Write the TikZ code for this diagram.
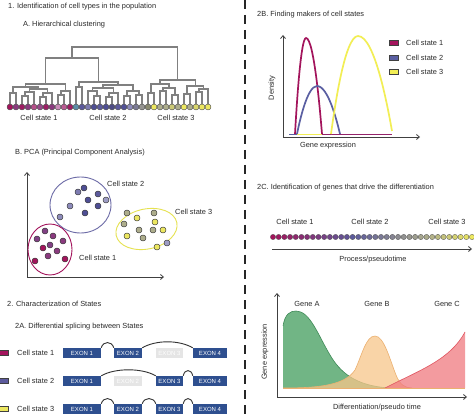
\documentclass[tikz,border=0pt]{standalone}
\usepackage{fontspec}
\setmainfont{Liberation Sans}
\usetikzlibrary{arrows.meta}
\definecolor{cmag}{HTML}{A3145C}
\definecolor{cplum}{HTML}{8A3A7E}
\definecolor{cpink}{HTML}{C98BB8}
\definecolor{cpur}{HTML}{5C5A9C}
\definecolor{cblue}{HTML}{4E4E94}
\definecolor{cteal}{HTML}{5B8DA8}
\definecolor{colive}{HTML}{ADAD8C}
\definecolor{cyel}{HTML}{ECE760}
\definecolor{exonblue}{HTML}{2E4F8F}
\definecolor{dmag}{HTML}{A3145C}
\definecolor{dblue}{HTML}{5A5FA2}
\definecolor{dyel}{HTML}{F2EE55}
\definecolor{ggreen}{HTML}{62AE78}
\definecolor{ggreenl}{HTML}{3F8A57}
\definecolor{gorange}{HTML}{F8C68A}
\definecolor{gorangel}{HTML}{EBB070}
\definecolor{gred}{HTML}{F07A80}
\definecolor{gredl}{HTML}{E05560}
\definecolor{txtc}{HTML}{2A2A2A}
\newcommand{\dendU}[5]{\draw[dendro] (#1,#2) -- (#1,#5) -- (#3,#5) -- (#3,#4);}
\begin{document}
\begin{tikzpicture}[x=1pt,y=-1pt,
  txt/.style={font=\fontsize{7.4}{8.5}\selectfont, text=txtc, inner sep=0pt},
  dendro/.style={draw=black!50, line width=1.1pt},
  ldot/.style={circle, draw=black!75, line width=0.4pt, minimum size=5.9pt, inner sep=0pt},
  pdot/.style={circle, draw=black!80, line width=0.45pt, minimum size=6pt, inner sep=0pt},
  sdot/.style={circle, draw=black!70, line width=0.3pt, minimum size=5.3pt, inner sep=0pt},
  axis/.style={draw=black!75, line width=0.8pt, {Straight Barb[length=3pt,width=5pt]}-{Straight Barb[length=3pt,width=5pt]}},
  exon/.style={fill=exonblue, text=white, minimum width=#1, minimum height=10pt, inner sep=0pt, font=\fontsize{6}{7}\selectfont},
  ghost/.style={fill=black!10, text=white, minimum width=#1, minimum height=10pt, inner sep=0pt, font=\fontsize{6}{7}\selectfont},
  splice/.style={draw=black!80, line width=0.9pt},
  swatch/.style={draw=black!75, line width=0.5pt},
  dens/.style={line width=1.7pt},
]
\useasboundingbox (0,0) rectangle (474,414);
\fill[white] (0,0) rectangle (474,414);

% divider
\coordinate (dtop) at (245,0);
\coordinate (dbot) at (245,414);
\draw[black!85, line width=1.2pt, dash pattern=on 9pt off 6pt] (dtop) -- (dbot);

% ---------- Section 1 ----------
\node[txt, anchor=west] (t1) at (8,7) {1. Identification of cell types in the population};
\node[txt, anchor=west] (t1a) at (23,25) {A. Hierarchical clustering};

% dendrogram
\dendU{10}{104}{16}{104}{93}
\dendU{22}{104}{28}{104}{96}
\dendU{25}{96}{34}{104}{92}
\dendU{40}{104}{46}{104}{97}
\dendU{43}{97}{52}{104}{93}
\dendU{29.5}{92}{47.5}{93}{89}
\dendU{13}{93}{38.5}{89}{87}
\dendU{58}{104}{64}{104}{95}
\dendU{61}{95}{70}{104}{91}
\dendU{25.75}{87}{65.5}{91}{84}
\dendU{76}{104}{82}{104}{87}
\dendU{94}{104}{100}{104}{96}
\dendU{88}{104}{97}{96}{91}
\dendU{106}{104}{112}{104}{97}
\dendU{109}{97}{118}{104}{93}
\dendU{92.5}{91}{113.5}{93}{88}
\dendU{124}{104}{130}{104}{96}
\dendU{136}{104}{142}{104}{95}
\dendU{127}{96}{139}{95}{91}
\dendU{103}{88}{133}{91}{85}
\dendU{79}{87}{118}{85}{82}
\dendU{148}{104}{154}{104}{93}
\dendU{160}{104}{166}{104}{91}
\dendU{172}{104}{178}{104}{95}
\dendU{163}{91}{175}{95}{88}
\dendU{151}{93}{169}{88}{84}
\dendU{184}{104}{190}{104}{94}
\dendU{196}{104}{202}{104}{92}
\dendU{199}{92}{208}{104}{89}
\dendU{187}{94}{203.5}{89}{86}
\dendU{160}{84}{195.25}{86}{80}
\dendU{45.6}{84}{98.5}{82}{58}
\dendU{72}{58}{177.6}{80}{47}

\foreach \c [count=\i from 0] in {cmag, cplum, cmag!80!cplum, cplum, cmag!50!cpink, cplum!80!cpink, cmag!70!cplum, cplum, cpink, cpink!60!cmag, cmag!80!cplum, cteal, cpur, cpur!80!white, cblue, cpur, cblue, cpur!85!black, cpur, cblue!80!cpur, cpur!70!white, cpur!60!colive, colive!70!cpur, colive!80!black, cyel, colive, colive, cyel!50!colive, colive, cyel, colive, cyel!70!colive, cyel, cyel}
  {\node[ldot, fill=\c] (l\i) at ({10+6*\i},107) {};}

\node[txt] (cs1) at (39,118) {Cell state 1};
\node[txt] (cs2) at (108,118) {Cell state 2};
\node[txt] (cs3) at (176,118) {Cell state 3};

% PCA
\node[txt, anchor=west] (t1b) at (15,153) {B. PCA (Principal Component Analysis)};
\coordinate (pO) at (27,277);
\coordinate (pY) at (27,172);
\coordinate (pX) at (164,277);
\draw[axis] (pY) -- (pO) -- (pX);

\draw[cpur!90, line width=0.9pt] (80.5,205) ellipse [x radius=30.5pt, y radius=28pt];
\draw[cmag, line width=0.9pt] (50,249.5) ellipse [x radius=22pt, y radius=25.5pt];
\draw[dyel!95!black, line width=0.9pt, rotate around={12:(146.5,229)}] (146.5,229) ellipse [x radius=31pt, y radius=20pt];

\foreach \x/\y/\c [count=\i] in {78/192/cpur!80!white, 84/188/cblue, 98/194/cpur, 88/200/cblue, 106/200/cpur!60!white, 70/206/cpur!70!white, 98/206/cblue, 85/213/cblue, 60/217/cpur!70!white}
  {\node[pdot, fill=\c] (pb\i) at (\x,\y) {};}
\foreach \x/\y/\c [count=\i] in {45/231/cplum!80!cpur, 53/236/cplum, 37/239/cplum!80!cpur, 63/241/cplum, 50/245/cplum!80!cpur, 43/248/cmag, 57/251/cplum, 48/256/cplum, 65/259/cmag, 35/261/cmag}
  {\node[pdot, fill=\c] (pm\i) at (\x,\y) {};}
\foreach \x/\y/\c [count=\i] in {127/213/colive, 154/213/colive, 137/218/cyel, 155/222/cyel, 124/224/colive, 139/230/colive, 153/230/colive, 163/230/cyel, 127/236/cyel, 143/238/colive, 167/243/cpur!60!white, 157/247/cyel}
  {\node[pdot, fill=\c] (py\i) at (\x,\y) {};}

\node[txt, anchor=west] (e2l) at (107,184) {Cell state 2};
\node[txt, anchor=west] (e3l) at (175,212) {Cell state 3};
\node[txt, anchor=west] (e1l) at (79,258) {Cell state 1};

% ---------- Section 2 ----------
\node[txt, anchor=west] (t2) at (7,304) {2. Characterization of States};
\node[txt, anchor=west] (t2a) at (15,327) {2A. Differential splicing between States};

\foreach \y/\c/\n in {352.5/cmag/1, 380.5/cpur/2, 408.5/cyel/3}{
  \draw[swatch, fill=\c] (-1,\y-2.5) rectangle (8,\y+2.5);
  \node[txt, anchor=west] (row\n) at (17,\y) {Cell state \n};
}

% row 1
\node[exon=38pt] (a1) at (82,353) {EXON 1};
\node[exon=28pt] (a2) at (128,353) {EXON 2};
\node[ghost=27pt] (a3) at (169.5,353) {EXON 3};
\node[exon=34pt] (a4) at (210,353) {EXON 4};
\draw[splice] (a1.north east) .. controls +(2,-7) and +(-2,-7) .. (a2.north west);
\draw[splice] (a2.north east) .. controls +(14,-8) and +(-14,-8) .. (a4.north west);
% row 2
\node[exon=38pt] (b1) at (82,381) {EXON 1};
\node[ghost=28pt] (b2) at (128,381) {EXON 2};
\node[exon=27pt] (b3) at (169.5,381) {EXON 3};
\node[exon=34pt] (b4) at (210,381) {EXON 4};
\draw[splice] (b1.north east) .. controls +(14,-8) and +(-14,-8) .. (b3.north west);
\draw[splice] (b3.north east) .. controls +(1.5,-7) and +(-1.5,-7) .. (b4.north west);
% row 3
\node[exon=38pt] (c1) at (82,409) {EXON 1};
\node[exon=28pt] (c2) at (128,409) {EXON 2};
\node[exon=27pt] (c3) at (169.5,409) {EXON 3};
\node[exon=34pt] (c4) at (210,409) {EXON 4};
\draw[splice] (c1.north east) .. controls +(2,-7) and +(-2,-7) .. (c2.north west);
\draw[splice] (c2.north east) .. controls +(2,-7) and +(-2,-7) .. (c3.north west);
\draw[splice] (c3.north east) .. controls +(1.5,-7) and +(-1.5,-7) .. (c4.north west);

% ---------- 2B ----------
\node[txt, anchor=west] (t2b) at (257,15) {2B. Finding makers of cell states};
\coordinate (dO) at (283,137);
\coordinate (dY) at (283,35);
\coordinate (dX) at (420,137);
\draw[axis] (dY) -- (dO) -- (dX);
\draw[dyel, dens] (297,134.5) -- (331,134.5);
\draw[dblue, dens] (289,134.5) -- (297,134.5);
\draw[dmag!80!dblue, dens] (322,134.5) -- (392,134.5);
\draw[dmag, dens] (295,134) parabola bend (306,38) (322,134);
\draw[dblue, dens] (297,134) parabola bend (317,86) (340,134);
\draw[dyel, dens] (331,134) parabola bend (358,36) (392,131);
\node[txt, rotate=90] (dlab) at (272,88) {Density};
\node[txt] (gel) at (328,146) {Gene expression};
\foreach \y/\c/\n in {43/dmag/1, 57.5/dblue/2, 72/dyel/3}{
  \draw[swatch, fill=\c] (389,\y-2.5) rectangle (398,\y+2.5);
  \node[txt, anchor=west] (leg\n) at (406,\y) {Cell state \n};
}

% ---------- 2C ----------
\node[txt, anchor=west] (t2c) at (257,188) {2C. Identification of genes that drive the differentiation};
\node[txt] (p1) at (295,222) {Cell state 1};
\node[txt] (p2) at (370,222) {Cell state 2};
\node[txt] (p3) at (447,222) {Cell state 3};
\foreach \i in {0,...,35}{
  \pgfmathsetmacro{\t}{\i/35}
  \ifdim \t pt < 0.4pt
    \pgfmathtruncatemacro{\p}{100*\t/0.4}
    \colorlet{dc}{cpur!\p!cmag}
  \else\ifdim \t pt < 0.78pt
    \pgfmathtruncatemacro{\p}{100*(\t-0.4)/0.38}
    \colorlet{dc}{colive!\p!cpur}
  \else
    \pgfmathtruncatemacro{\p}{100*(\t-0.78)/0.22}
    \colorlet{dc}{cyel!\p!colive}
  \fi\fi
  \node[sdot, fill=dc] (q\i) at ({273+199*\i/35},237) {};
}
\coordinate (ps) at (272,249);
\coordinate (pe) at (472,249);
\draw[draw=black!75, line width=0.8pt, -{Straight Barb[length=3pt,width=5pt]}] (ps) -- (pe);
\node[txt] (pt) at (373,260) {Process/pseudotime};

% ---------- gene plot ----------
\coordinate (gO) at (277,397);
\coordinate (gY) at (277,293);
\coordinate (gX) at (467,397);
\fill[ggreen, fill opacity=0.9] (283,388) -- (283,326) .. controls (285,314) and (290,311) .. (296,311) .. controls (310,311) and (318,335) .. (330,355) .. controls (340,372) and (355,386) .. (390,388) -- cycle;
\draw[ggreenl, line width=0.6pt] (283,326) .. controls (285,314) and (290,311) .. (296,311) .. controls (310,311) and (318,335) .. (330,355) .. controls (340,372) and (355,386) .. (390,388);
\fill[gorange, fill opacity=0.75] (283,388) .. controls (320,388) and (345,385) .. (355,370) .. controls (362,355) and (366,336) .. (375,336) .. controls (384,336) and (390,360) .. (396,375) .. controls (400,385) and (405,388) .. (412,388) -- cycle;
\draw[gorangel, line width=0.6pt] (283,388) .. controls (320,388) and (345,385) .. (355,370) .. controls (362,355) and (366,336) .. (375,336) .. controls (384,336) and (390,360) .. (396,375) .. controls (400,385) and (405,388) .. (412,388);
\fill[gred, fill opacity=0.75] (385,388) .. controls (420,370) and (450,360) .. (465,332) -- (465,388) -- cycle;
\draw[gredl, line width=0.6pt] (385,388) .. controls (420,370) and (450,360) .. (465,332);
\draw[gorangel, line width=0.8pt] (283,388) -- (465,388);
\draw[axis] (gY) -- (gO) -- (gX);
\node[txt] (ga) at (307,304) {Gene A};
\node[txt] (gb) at (377,304) {Gene B};
\node[txt] (gc) at (447,304) {Gene C};
\node[txt, rotate=90] (gel2) at (265,352) {Gene expression};
\node[txt] (dpt) at (377,408) {Differentiation/pseudo time};
\end{tikzpicture}
\end{document}
